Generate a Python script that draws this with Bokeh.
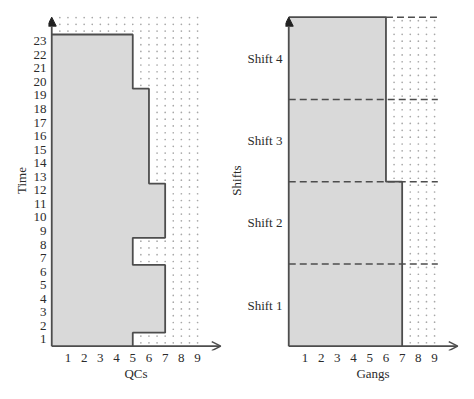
import numpy as np
from bokeh.plotting import figure
from bokeh.models import FixedTicker, Arrow, OpenHead, NormalHead, Range1d
from bokeh.layouts import row
from bokeh.embed import file_html
from bokeh.resources import INLINE

# ---------------- data ----------------
hours = list(range(1, 24))
qcs = [5, 7, 7, 7, 7, 7, 5, 5, 7, 7, 7, 7, 6, 6, 6, 6, 6, 6, 6, 5, 5, 5, 5]
shift_labels = ["Shift 1", "Shift 2", "Shift 3", "Shift 4"]
gangs = [7, 7, 6, 6]
x_ticks = [1, 2, 3, 4, 5, 6, 7, 8, 9]
x_max = 9

FONT = "Liberation Serif"
FILL = "#d9d9d9"
EDGE = "#4d4d4d"
DOT = "#a8a8a8"
TXT = "#2b2b2b"


def style(p, xlabel, ylabel, y_ticks, y_overrides, y_standoff, ylab_standoff):
    p.outline_line_color = None
    p.grid.visible = False
    p.background_fill_color = "white"
    p.border_fill_color = "white"
    p.xaxis.ticker = FixedTicker(ticks=x_ticks)
    p.yaxis.ticker = FixedTicker(ticks=y_ticks)
    p.yaxis.major_label_overrides = y_overrides
    p.xaxis.axis_label = xlabel
    p.yaxis.axis_label = ylabel
    for ax in p.axis:
        ax.axis_line_color = None
        ax.major_tick_line_color = None
        ax.minor_tick_line_color = None
        ax.major_label_text_font = FONT
        ax.major_label_text_font_size = "13px"
        ax.major_label_text_color = TXT
        ax.axis_label_text_font = FONT
        ax.axis_label_text_font_size = "13px"
        ax.axis_label_text_font_style = "normal"
        ax.axis_label_text_color = TXT
    p.xaxis.major_label_standoff = -3
    p.xaxis.axis_label_standoff = 1
    p.yaxis.major_label_standoff = y_standoff
    p.yaxis.axis_label_standoff = ylab_standoff


def outline(counts):
    n = len(counts)
    xs = [0, counts[-1]]
    ys = [n, n]
    for i in range(n - 1, -1, -1):
        xs.append(counts[i]); ys.append(i)
        if i > 0:
            xs.append(counts[i - 1]); ys.append(i)
    return xs, ys


def arrows(p, ytop):
    p.add_layout(Arrow(end=OpenHead(size=9, line_color=EDGE, line_width=1.5),
                       x_start=0, y_start=0, x_end=10.43, y_end=0,
                       line_color=EDGE, line_width=1.8))
    p.add_layout(Arrow(end=NormalHead(size=9, fill_color="#222222", line_color="#222222", line_width=1),
                       x_start=0, y_start=0, x_end=0, y_end=ytop,
                       line_color=EDGE, line_width=1.8))


# ---------------- left panel ----------------
p1 = figure(frame_width=175, frame_height=340,
            x_range=Range1d(-0.2, 10.6), y_range=Range1d(-0.317, 24.77),
            min_border_left=48, min_border_right=0, min_border_top=10, min_border_bottom=45,
            output_backend="svg", toolbar_location=None)
style(p1, "QCs", "Time", [h - 0.5 for h in hours],
      {h - 0.5: str(h) for h in hours}, -4, 2)

dx, dy = [], []
for i, c in enumerate(qcs):
    for r in (0.25, 0.75):
        for x in np.arange(c + 0.5, x_max + 0.01, 0.5):
            dx.append(x); dy.append(i + r)
for r in (23.25, 23.75, 24.25):
    for x in np.arange(0.5, x_max + 0.01, 0.5):
        dx.append(x); dy.append(r)
p1.scatter(dx, dy, size=1.7, color=DOT, line_color=None)

ox, oy = outline(qcs)
p1.patch(ox + [0], oy + [0], fill_color=FILL, line_color=None)
p1.line(ox, oy, line_color=EDGE, line_width=1.8)
arrows(p1, 24.28)

# ---------------- right panel ----------------
p2 = figure(frame_width=175, frame_height=340,
            x_range=Range1d(-0.2, 10.6), y_range=Range1d(-0.0523, 4.0815),
            min_border_left=62, min_border_right=8, min_border_top=10, min_border_bottom=45,
            output_backend="svg", toolbar_location=None)
nshift = len(gangs)
style(p2, "Gangs", "Shifts", [s + 0.5 for s in range(nshift)],
      {s + 0.5: shift_labels[s] for s in range(nshift)}, -3, 0)

dx, dy = [], []
for s, g in enumerate(gangs):
    for j in range(12):
        for x in np.arange(g + 0.5, x_max + 0.01, 0.5):
            dx.append(x); dy.append(s + (j + 0.5) / 12)
p2.scatter(dx, dy, size=1.7, color=DOT, line_color=None)

gx, gy = outline(gangs)
p2.patch(gx + [0], gy + [0], fill_color=FILL, line_color=None)
mx, my = [], []
for s in range(1, nshift):
    mx.append([0, x_max + 0.2]); my.append([s, s])
mx.append([gangs[-1], x_max + 0.2]); my.append([nshift, nshift])
p2.multi_line(mx, my, line_color=EDGE, line_width=1.6, line_dash="7 4")
p2.line(gx, gy, line_color=EDGE, line_width=1.8)
arrows(p2, nshift)

layout = row(p1, p2)
open("out.html", "w").write(file_html(layout, INLINE))
